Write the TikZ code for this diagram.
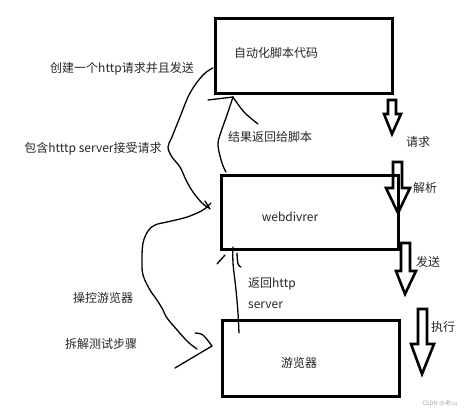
\documentclass[tikz,border=0pt]{standalone}
\usepackage{fontspec}
\setmainfont{Noto Sans CJK SC}
\begin{document}
\begin{tikzpicture}[x=1pt,y=-1pt,
  box/.style={draw, line width=3pt, inner sep=0pt},
  lbl/.style={font=\fontsize{12pt}{14pt}\selectfont, text=black!85, inner sep=0pt},
  hollow/.style={draw, line width=2.6pt, line join=miter},
  scribble/.style={line width=1.3pt, line cap=round, line join=round}]
\useasboundingbox (0,0) rectangle (474,414);
% boxes
\node[box, minimum width=177pt, minimum height=75pt] (b1) at (303.5,56.5) {};
\node[box, minimum width=177pt, minimum height=74pt] (b2) at (309.5,213) {};
\node[box, minimum width=177pt, minimum height=76pt] (b3) at (310.5,358) {};
% box texts
\node[lbl] (t1) at (276,53) {自动化脚本代码};
\node[lbl] (t2) at (290,217) {webdivrer};
\node[lbl] (t3) at (299,363) {游览器};
% side labels
\node[lbl] (l1) at (122,69) {创建一个http请求并且发送};
\node[lbl] (l2) at (270,137) {结果返回给脚本};
\node[lbl] (l3) at (93,149) {包含htttp server接受请求};
\node[lbl, align=left, anchor=west] (l4a) at (248,284) {返回http};
\node[lbl, align=left, anchor=west] (l4b) at (248,305) {server};
\node[lbl] (l5) at (103,298) {操控游览器};
\node[lbl] (l6) at (101,344) {拆解测试步骤};
% hollow arrows
\draw[hollow] (388,100) -- (396,100) -- (396,114) -- (401,114) -- (392,134) -- (384,114) -- (388,114) -- cycle;
\draw[hollow] (393,162) -- (402,162) -- (402,188) -- (410,188) -- (398,213) -- (386,188) -- (393,188) -- cycle;
\draw[hollow] (401,243) -- (410,243) -- (410,271) -- (416,271) -- (405,294) -- (396,271) -- (401,271) -- cycle;
\draw[hollow] (418,309) -- (427,309) -- (427,344) -- (434,344) -- (422,374) -- (411,344) -- (418,344) -- cycle;
\node[lbl] (r1) at (418,142) {请求};
\node[lbl] (r2) at (425,188) {解析};
\node[lbl] (r3) at (428,262) {发送};
\node[lbl] (r4) at (443,327) {执行};
% freehand strokes
\draw[scribble] plot[smooth, tension=0.6] coordinates {(213,68) (203,75) (190,93) (180,117) (172,137) (168,147) (172,157) (180,167) (186,180) (193,192) (202,203) (209,208)};
\draw[scribble] (205,201) -- (210,209);
\draw[scribble] plot[smooth, tension=0.6] coordinates {(211,203) (203,210) (190,216) (180,219) (167,222) (155,225) (148,231) (143,243) (142,260) (143,275) (150,290) (157,300) (163,310) (167,318) (178,331) (188,342) (197,349)};
\draw[scribble] plot[smooth, tension=0.5] coordinates {(195,333) (203,335) (212,346)} -- (175,368);
\draw[scribble] (208,100) -- (233,97);
\draw[scribble] plot[smooth, tension=0.6] coordinates {(233,97) (244,112) (258,124)};
\draw[scribble] plot[smooth, tension=0.6] coordinates {(233,97) (227,115) (221,132) (218,145) (222,163) (226,172)};
\draw[scribble] plot[smooth, tension=0.6] coordinates {(233,247) (233,263) (236,290) (238,313) (239,333)};
\draw[scribble] (217,264) -- (225,255);
\draw[scribble] plot[smooth, tension=0.6] coordinates {(237,253) (238,264) (241,267)};
% watermark
\node[font=\fontsize{6pt}{7pt}\selectfont, text=black!35, inner sep=0pt] (wm) at (440,403) {CSDN @老cu};
\end{tikzpicture}
\end{document}
